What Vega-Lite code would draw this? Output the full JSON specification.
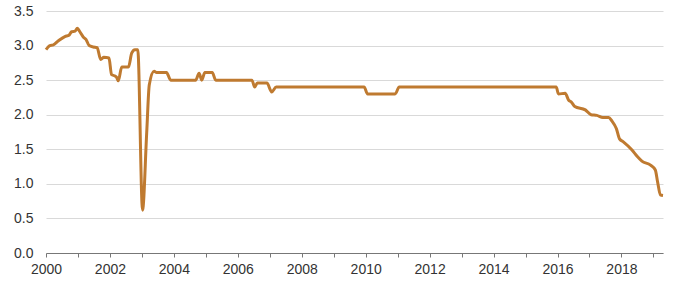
{
  "$schema": "https://vega.github.io/schema/vega-lite/v6.json",
  "width": 617,
  "height": 242,
  "autosize": {"type": "none"},
  "padding": {"left": 46, "top": 11, "right": 17, "bottom": 28},
  "background": "white",
  "config": {
    "view": {"stroke": null},
    "font": "Liberation Sans"
  },
  "data": {
    "values": [
      {"year": 2000.0, "value": 2.94},
      {"year": 2000.12, "value": 3.0},
      {"year": 2000.23, "value": 3.01},
      {"year": 2000.39, "value": 3.07},
      {"year": 2000.59, "value": 3.13},
      {"year": 2000.72, "value": 3.15},
      {"year": 2000.8, "value": 3.2},
      {"year": 2000.91, "value": 3.21},
      {"year": 2000.98, "value": 3.25},
      {"year": 2001.06, "value": 3.2},
      {"year": 2001.17, "value": 3.12},
      {"year": 2001.25, "value": 3.09},
      {"year": 2001.35, "value": 3.0},
      {"year": 2001.48, "value": 2.98},
      {"year": 2001.6, "value": 2.97},
      {"year": 2001.71, "value": 2.8},
      {"year": 2001.81, "value": 2.83},
      {"year": 2001.97, "value": 2.82},
      {"year": 2002.05, "value": 2.58},
      {"year": 2002.16, "value": 2.56},
      {"year": 2002.21, "value": 2.54},
      {"year": 2002.26, "value": 2.49},
      {"year": 2002.37, "value": 2.69},
      {"year": 2002.58, "value": 2.69},
      {"year": 2002.68, "value": 2.89},
      {"year": 2002.78, "value": 2.94},
      {"year": 2002.87, "value": 2.94},
      {"year": 2003.02, "value": 0.62},
      {"year": 2003.15, "value": 1.74},
      {"year": 2003.23, "value": 2.43},
      {"year": 2003.38, "value": 2.63},
      {"year": 2003.46, "value": 2.61},
      {"year": 2003.77, "value": 2.61},
      {"year": 2003.9, "value": 2.5},
      {"year": 2004.68, "value": 2.5},
      {"year": 2004.79, "value": 2.6},
      {"year": 2004.87, "value": 2.5},
      {"year": 2004.97, "value": 2.61},
      {"year": 2005.2, "value": 2.61},
      {"year": 2005.31, "value": 2.5},
      {"year": 2006.44, "value": 2.5},
      {"year": 2006.53, "value": 2.4},
      {"year": 2006.61, "value": 2.46},
      {"year": 2006.91, "value": 2.46},
      {"year": 2007.06, "value": 2.33},
      {"year": 2007.2, "value": 2.4},
      {"year": 2009.95, "value": 2.4},
      {"year": 2010.06, "value": 2.3},
      {"year": 2010.92, "value": 2.3},
      {"year": 2011.05, "value": 2.4},
      {"year": 2015.96, "value": 2.4},
      {"year": 2016.03, "value": 2.3},
      {"year": 2016.24, "value": 2.31},
      {"year": 2016.35, "value": 2.21},
      {"year": 2016.42, "value": 2.19},
      {"year": 2016.54, "value": 2.12},
      {"year": 2016.87, "value": 2.07},
      {"year": 2017.05, "value": 2.0},
      {"year": 2017.23, "value": 1.99},
      {"year": 2017.42, "value": 1.96},
      {"year": 2017.6, "value": 1.96},
      {"year": 2017.7, "value": 1.91},
      {"year": 2017.84, "value": 1.8},
      {"year": 2017.94, "value": 1.65},
      {"year": 2018.05, "value": 1.61},
      {"year": 2018.33, "value": 1.49},
      {"year": 2018.49, "value": 1.4},
      {"year": 2018.64, "value": 1.33},
      {"year": 2018.91, "value": 1.27},
      {"year": 2019.06, "value": 1.2},
      {"year": 2019.13, "value": 1.03},
      {"year": 2019.22, "value": 0.84},
      {"year": 2019.3, "value": 0.83}
    ]
  },
  "mark": {"type": "line", "color": "#BF7A30", "strokeWidth": 3, "interpolate": "monotone", "clip": false},
  "encoding": {
    "x": {
      "field": "year",
      "type": "quantitative",
      "scale": {"domain": [2000, 2019.3], "nice": false, "zero": false},
      "axis": {
        "title": null,
        "values": [2000, 2001, 2002, 2003, 2004, 2005, 2006, 2007, 2008, 2009, 2010, 2011, 2012, 2013, 2014, 2015, 2016, 2017, 2018, 2019],
        "labelExpr": "datum.value % 2 == 0 ? format(datum.value, 'd') : ''",
        "grid": false,
        "domainColor": "#777777",
        "tickColor": "#777777",
        "tickSize": 4,
        "labelFontSize": 14,
        "labelColor": "#333333",
        "labelPadding": 5,
        "labelFlush": false,
        "labelOverlap": false
      }
    },
    "y": {
      "field": "value",
      "type": "quantitative",
      "scale": {"domain": [0, 3.5], "nice": false},
      "axis": {
        "title": null,
        "values": [0, 0.5, 1, 1.5, 2, 2.5, 3, 3.5],
        "format": ".1f",
        "domain": false,
        "ticks": false,
        "tickSize": 0,
        "gridColor": "#D9D9D9",
        "labelFontSize": 14,
        "labelColor": "#333333",
        "labelPadding": 13
      }
    }
  }
}
